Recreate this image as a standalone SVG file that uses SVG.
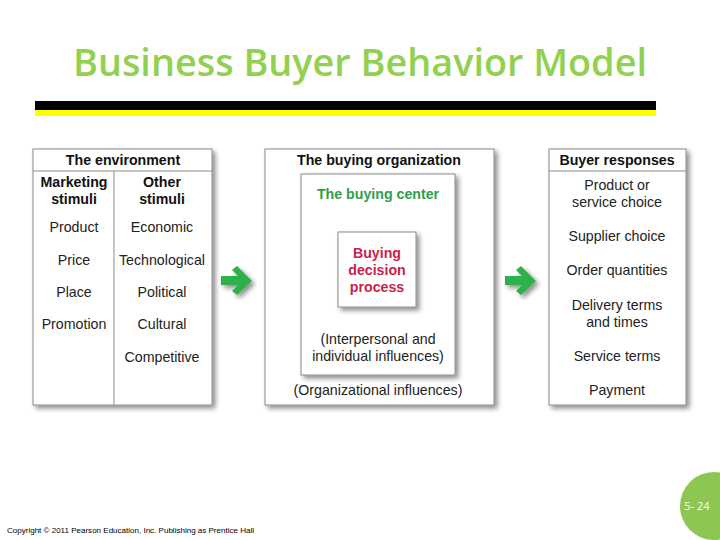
<svg xmlns="http://www.w3.org/2000/svg" width="720" height="540" viewBox="0 0 720 540">
<style>
.box{fill:#fff;stroke:#8a8a8a;stroke-width:1}
.ln{stroke:#8a8a8a;stroke-width:1}
.t{font-family:"Liberation Sans",Arial,sans-serif;font-size:14.2px;fill:#222;text-anchor:middle}
.b{font-weight:bold;fill:#111}
.g{fill:#2e9e4f;font-weight:bold}
.r{fill:#c8234a;font-weight:bold}
.arrow{fill:#2db04b}
</style>
<defs>
<filter id="sh" x="-10%" y="-10%" width="125%" height="125%">
<feGaussianBlur in="SourceAlpha" stdDeviation="2.5"/>
<feOffset dx="3" dy="3" result="o"/>
<feComponentTransfer><feFuncA type="linear" slope="0.45"/></feComponentTransfer>
<feMerge><feMergeNode/><feMergeNode in="SourceGraphic"/></feMerge>
</filter>
</defs>
<rect width="720" height="540" fill="#fff"/>
<text x="360" y="76" font-family="Open Sans,Noto Sans,sans-serif" font-size="38" font-weight="600" fill="#92d050" text-anchor="middle" textLength="574" lengthAdjust="spacingAndGlyphs">Business Buyer Behavior Model</text>
<rect x="35" y="101" width="621" height="9" fill="#000"/>
<rect x="35" y="110" width="621" height="6" fill="#ffff00"/>

<g id="environment">
<rect class="box" x="33" y="149" width="179" height="256" filter="url(#sh)"/>
<line class="ln" x1="33" y1="171" x2="212" y2="171"/>
<line class="ln" x1="114" y1="171" x2="114" y2="405"/>
<text class="t b" x="123" y="165">The environment</text>
<text class="t b" x="74" y="187">Marketing</text>
<text class="t b" x="74" y="204">stimuli</text>
<text class="t b" x="162" y="187">Other</text>
<text class="t b" x="162" y="204">stimuli</text>
<text class="t" x="74" y="232">Product</text>
<text class="t" x="74" y="265">Price</text>
<text class="t" x="74" y="297">Place</text>
<text class="t" x="74" y="329">Promotion</text>
<text class="t" x="162" y="232">Economic</text>
<text class="t" x="162" y="265">Technological</text>
<text class="t" x="162" y="297">Political</text>
<text class="t" x="162" y="329">Cultural</text>
<text class="t" x="162" y="362">Competitive</text>
</g>

<g id="organization">
<rect class="box" x="265" y="149" width="229" height="256" filter="url(#sh)"/>
<text class="t b" x="379" y="165">The buying organization</text>
<rect class="box" x="301" y="174" width="154" height="201" filter="url(#sh)"/>
<text class="t g" x="378" y="199">The buying center</text>
<rect class="box" x="338" y="232" width="78" height="75" filter="url(#sh)"/>
<text class="t r" x="377" y="258">Buying</text>
<text class="t r" x="377" y="275">decision</text>
<text class="t r" x="377" y="292">process</text>
<text class="t" x="378" y="344">(Interpersonal and</text>
<text class="t" x="378" y="361">individual influences)</text>
<text class="t" x="378" y="395">(Organizational influences)</text>
</g>

<g id="responses">
<rect class="box" x="549" y="149" width="137" height="256" filter="url(#sh)"/>
<line class="ln" x1="549" y1="171" x2="686" y2="171"/>
<text class="t b" x="617" y="165">Buyer responses</text>
<text class="t" x="617" y="190">Product or</text>
<text class="t" x="617" y="207">service choice</text>
<text class="t" x="617" y="241">Supplier choice</text>
<text class="t" x="617" y="275">Order quantities</text>
<text class="t" x="617" y="310">Delivery terms</text>
<text class="t" x="617" y="327">and times</text>
<text class="t" x="617" y="361">Service terms</text>
<text class="t" x="617" y="395">Payment</text>
</g>

<g id="connectors">
<path class="arrow" d="M221,276 L238,276 L232,270 L237,266 L252,281 L237,295 L232,291 L238,285 L221,285 Z" filter="url(#sh)"/>
<path class="arrow" d="M505,276 L522,276 L516,270 L521,266 L536,281 L521,295 L516,291 L522,285 L505,285 Z" filter="url(#sh)"/>
</g>

<circle cx="714" cy="506" r="34" fill="#8dc652"/>
<text x="697" y="510" font-family="Open Sans,Noto Sans,sans-serif" font-size="11" fill="#fff" text-anchor="middle">5- 24</text>
<text x="7" y="533" font-family="Liberation Sans,Arial,sans-serif" font-size="7.5" fill="#000" textLength="247" lengthAdjust="spacingAndGlyphs">Copyright © 2011 Pearson Education, Inc. Publishing as Prentice Hall</text>
</svg>
